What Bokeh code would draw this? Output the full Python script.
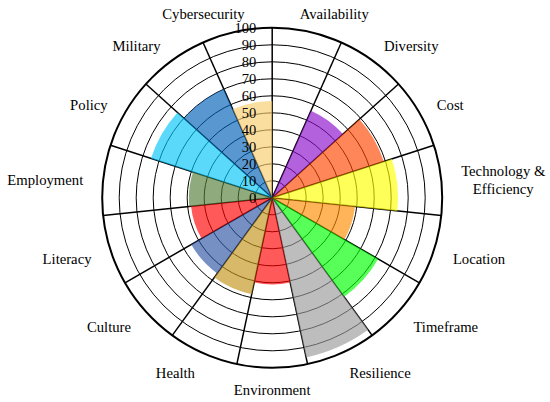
import math
from bokeh.plotting import figure
from bokeh.models import Range1d, ColumnDataSource
from bokeh.embed import file_html
from bokeh.resources import INLINE
from bokeh.core.properties import value

# ---- data ----
categories = ["Availability", "Diversity", "Cost", "Technology &\nEfficiency", "Location",
              "Timeframe", "Resilience", "Environment", "Health", "Culture", "Literacy",
              "Employment", "Policy", "Military", "Cybersecurity"]
scores = [0, 56, 69, 74, 49, 72, 96, 51, 58, 55, 48, 49, 75, 70, 57]
colors = ["#cccccc", "#8a0cc9", "#ff4500", "#ffff00", "#ff8c00", "#00ff00", "#999999",
          "#ff0000", "#c29419", "#2c55a5", "#ff0000", "#537e37", "#01c4f7", "#0060b8",
          "#f7cc6d"]
radial_ticks = [0, 10, 20, 30, 40, 50, 60, 70, 80, 90, 100]

# ---- layout constants ----
W, H = 550, 402
S = 1.7                  # px per value unit
CX, CY = 271.7, 197.3    # centre in px from left / top
RMAX = 100
FONT = "Liberation Serif"

p = figure(width=W, height=H, output_backend="svg", toolbar_location=None,
           x_range=Range1d(-CX / S, (W - CX) / S),
           y_range=Range1d(-(H - CY) / S, CY / S),
           min_border=0, outline_line_color=None)
p.axis.visible = False
p.grid.visible = False
p.background_fill_color = "white"
p.border_fill_color = "white"

n = len(categories)
step = 360.0 / n

# rings
ring_r = [t for t in radial_ticks if 0 < t < RMAX]
p.circle(x=[0] * len(ring_r), y=[0] * len(ring_r), radius=ring_r,
         fill_color=None, line_color="black", line_width=1)

# spokes
sx, sy = [], []
for i in range(n):
    a = math.radians(i * step)
    sx.append(RMAX * math.sin(a))
    sy.append(RMAX * math.cos(a))
p.segment(x0=[0] * n, y0=[0] * n, x1=sx, y1=sy, line_color="black", line_width=1.5)

# bars (clockwise from top)
starts, ends, vals, cols = [], [], [], []
for i, v in enumerate(scores):
    if v <= 0:
        continue
    t1 = i * step
    t2 = (i + 1) * step
    starts.append(math.radians(90 - t2))
    ends.append(math.radians(90 - t1))
    vals.append(v)
    cols.append(colors[i])
src = ColumnDataSource(dict(r=vals, s=starts, e=ends, c=cols))
p.wedge(x=0, y=0, radius="r", start_angle="s", end_angle="e", direction="anticlock",
        fill_color="c", fill_alpha=0.65, line_color=None, source=src)

# outer ring
p.circle(x=[0], y=[0], radius=[RMAX], fill_color=None, line_color="black", line_width=2)

# radial tick labels
p.text(x=[-16 / S] * len(radial_ticks), y=radial_ticks,
       text=[str(t) for t in radial_ticks],
       text_font=value(FONT), text_font_size="14.5px", text_color="black",
       text_align="right", text_baseline="middle")

# category labels
RL = 190 / S
DY = -2 / S
groups = {"left": ([], [], []), "right": ([], [], []), "center": ([], [], [])}
for i, name in enumerate(categories):
    a = math.radians(i * step + step / 2)
    x = RL * math.sin(a)
    y = RL * math.cos(a) + DY
    sa = math.sin(a)
    if "\n" in name:
        p.text(x=[x], y=[y], text=[name], text_font=value(FONT), text_font_size="14.7px",
               text_color="black", text_align="center", text_baseline="middle",
               anchor="center_left", text_line_height=1.1)
        continue
    if 0.05 < abs(sa) < 0.3:
        p.text(x=[x], y=[y], text=[name], text_font=value(FONT), text_font_size="14.7px",
               text_color="black", text_align="left" if sa > 0 else "right",
               text_baseline="middle", x_offset=-12 if sa > 0 else 12)
        continue
    key = "left" if sa > 0.05 else ("right" if sa < -0.05 else "center")
    groups[key][0].append(x)
    groups[key][1].append(y)
    groups[key][2].append(name)

for key in ("left", "right", "center"):
    xs, ys, ts = groups[key]
    if xs:
        p.text(x=xs, y=ys, text=ts, text_font=value(FONT), text_font_size="14.7px",
               text_color="black", text_align=key, text_baseline="middle")

open("out.html", "w").write(file_html(p, INLINE))
